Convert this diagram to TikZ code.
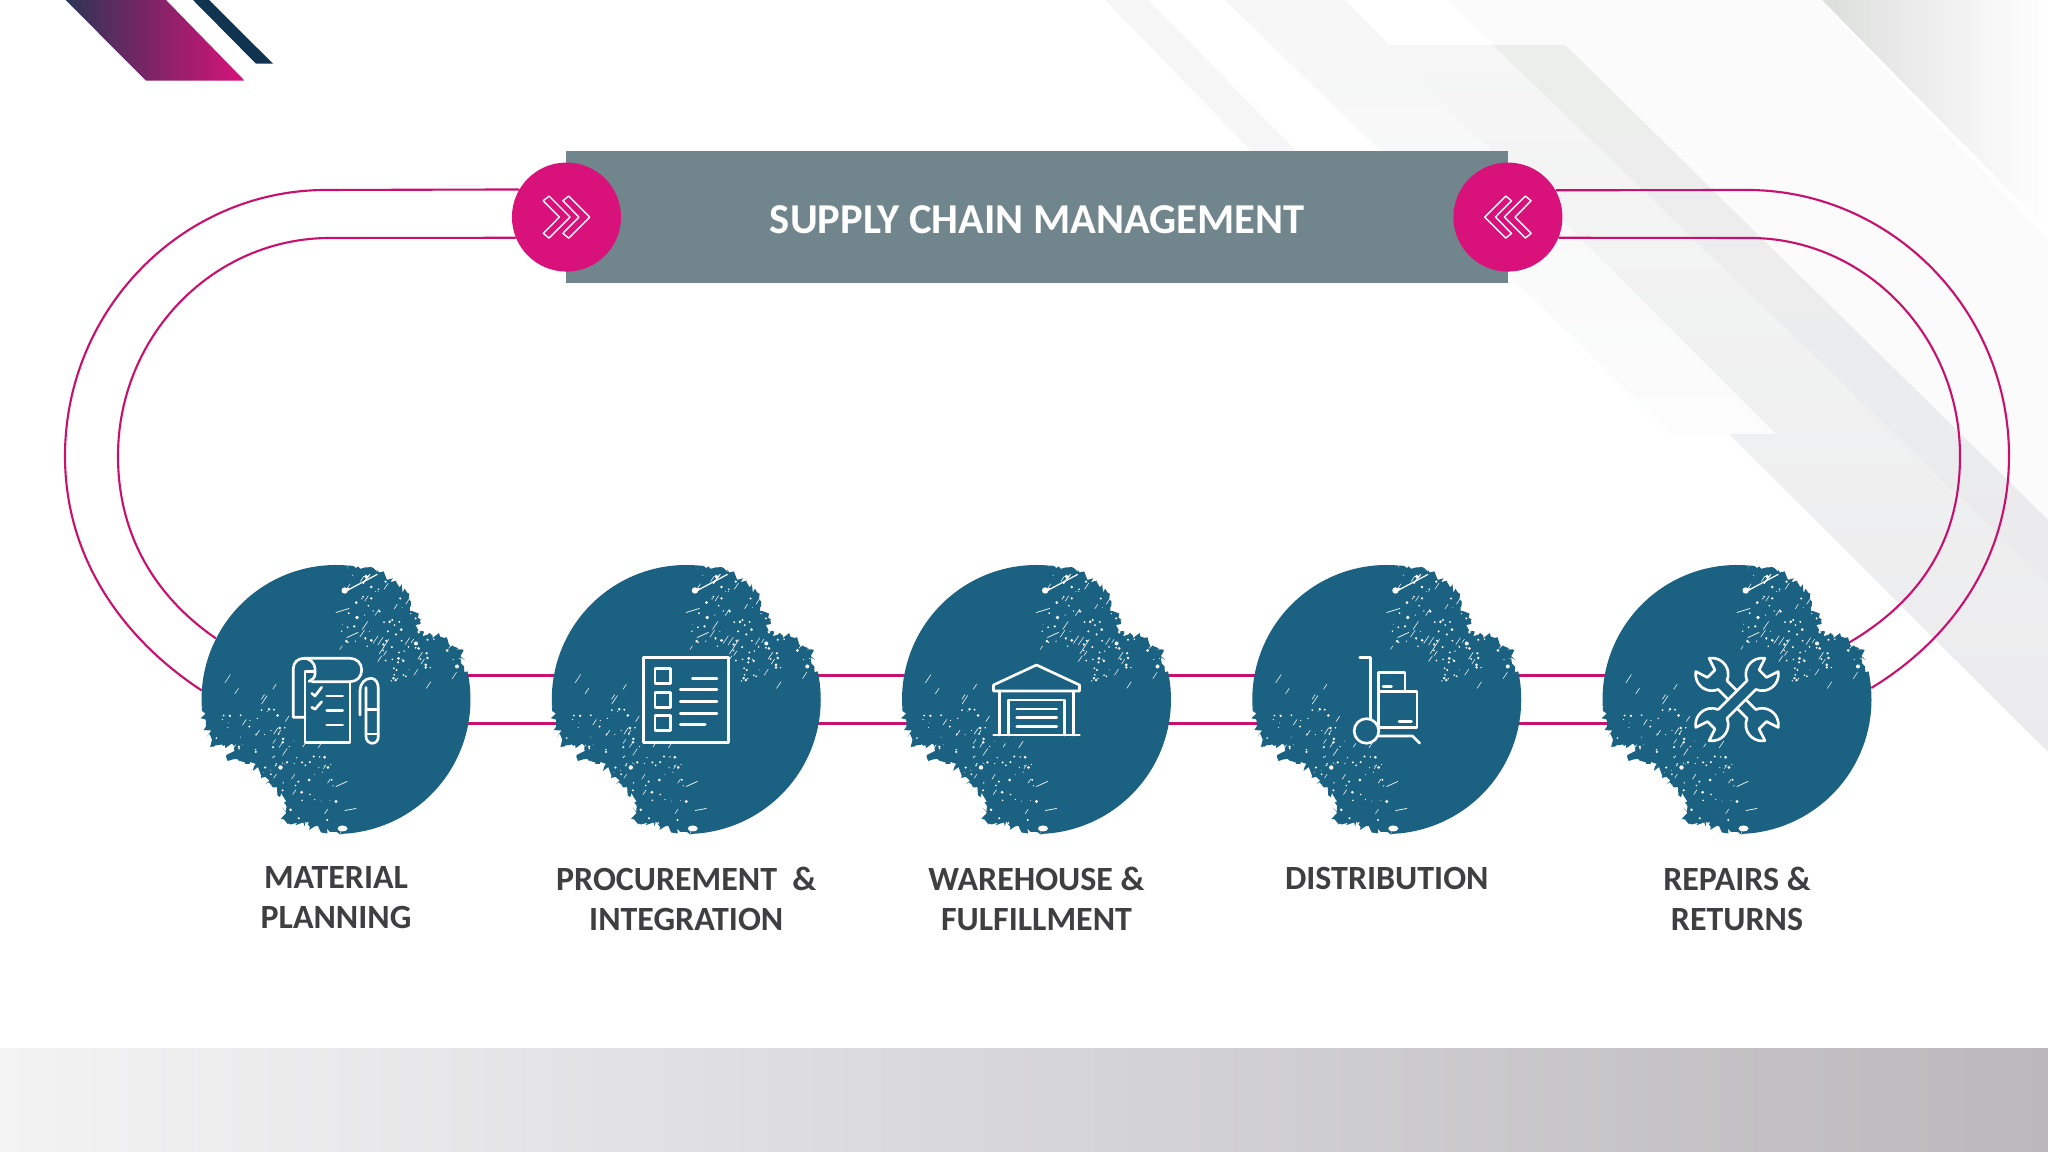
\documentclass[tikz,border=0pt]{standalone}
\usepackage{fontspec}
\setmainfont{Carlito}
\usetikzlibrary{decorations.pathmorphing}
\definecolor{inkblue}{HTML}{1A6182}
\definecolor{barslate}{HTML}{70858C}
\definecolor{hotpink}{HTML}{D8127A}
\definecolor{wirepink}{HTML}{C8106E}
\definecolor{navyA}{HTML}{2D3555}
\definecolor{navyB}{HTML}{10344F}
\definecolor{labelgray}{HTML}{3F3F41}
\definecolor{bandA}{HTML}{F5F6F5}
\definecolor{bandB}{HTML}{FAFBFA}
\definecolor{bandC}{HTML}{F5F6F5}
\definecolor{bandD}{HTML}{EBEBED}
\definecolor{bandE}{HTML}{ECEEEC}
\definecolor{bandF}{HTML}{FCFCFD}
\definecolor{cornergray}{HTML}{DCDEDC}
\definecolor{footL}{HTML}{F3F3F4}
\definecolor{footR}{HTML}{BAB8BC}
\tikzset{
  wire/.style={color=wirepink,line width=0.6pt},
  icon/.style={draw=white,line width=0.75pt,line join=round,line cap=round},
  chevron/.style={draw=white,line width=0.4pt},
  inkspot/.style={circle,minimum size=2.69cm,inner sep=0pt},
  badge/.style={circle,minimum size=1.09cm,inner sep=0pt,fill=hotpink},
  titlebar/.style={fill=barslate,text=white,minimum width=9.415cm,minimum height=1.312cm,inner sep=0pt,text height=9.3pt,text depth=0pt,font=\fontsize{12.1}{14}\selectfont\bfseries},
  steplabel/.style={anchor=north,inner sep=0pt,align=center,text=labelgray,font=\fontsize{9.65}{11.38}\selectfont\bfseries},
  jag/.style={decoration={random steps,segment length=0.8pt,amplitude=1.1pt}}
}
\begin{document}
\begin{tikzpicture}[line cap=round,line join=round,x=0.01cm,y=0.01cm]
\useasboundingbox (0,0) rectangle (2048,1152);
\fill[white] (0,0) rectangle (2048,1152);
\fill[bandB] (1919,887) -- (2048,757) -- (2048,632) -- (1919,757) -- cycle;
\fill[bandA] (1105,1152) -- (1148,1152) -- (1350,946) -- (1305,946) -- cycle;
\fill[bandB] (1448,1152) -- (1820,1152) -- (2048,912) -- (2048,632) -- (1565,1107) -- (1493,1107) -- cycle;
\shade[top color=bandA,bottom color=bandF] (1225,1152) -- (1345,1152) -- (1776,718) -- (1672,718) -- cycle;
\shade[top color=bandC,bottom color=bandD] (1387,1107) -- (1565,1107) -- (2048,632) -- (2048,400) -- (1729,718) -- (1776,718) -- cycle;
\shade[top color=bandE,bottom color=bandD] (1493,1107) -- (1565,1107) -- (2048,632) -- (2048,570) -- cycle;
\shade[left color=cornergray,right color=white] (1822,1152) -- (2048,1152) -- (2048,922) -- cycle;
\shade[left color=footL,right color=footR] (0,0) rectangle (2048,103.5);
\shade[left color=navyA,right color=hotpink] (65.6,1152) -- (166,1152) -- (244.6,1071.3) -- (146,1071.3) -- cycle;
\fill[navyB] (193,1152) -- (209,1152) -- (273,1088.3) -- (256,1088.3) -- cycle;

\node[titlebar] (title) at (1037.2,934.9) {SUPPLY CHAIN MANAGEMENT};
\node[badge] (badgeL) at ([xshift=0.01cm]title.west) {};
\node[badge] (badgeR) at ([xshift=-0.01cm]title.east) {};
\foreach \n/\cx in {1/336,2/686.25,3/1036.5,4/1386.75,5/1737}
  \node[inkspot] (ink\n) at (\cx,452.5) {};
\coordinate (wireEnd) at (1845,507);

\foreach \a/\b in {1/2,2/3,3/4,4/5} {
  \draw[wire] ([yshift=0.24cm]ink\a.center) -- ([yshift=0.24cm]ink\b.center);
  \draw[wire] ([yshift=-0.24cm]ink\a.center) -- ([yshift=-0.24cm]ink\b.center);
}
\draw[wire] (badgeL.150.3) -- (326,962) .. controls (182,962) and (65,842) .. (65,696) .. controls (65,592) and (125,512) .. (ink1.176);
\draw[wire] (badgeL.202.7) -- (330,914) .. controls (213,914) and (118,816) .. (118,696) .. controls (118,612) and (160,552) .. (ink1.153);
\draw[wire] (badgeR.29.7) -- (1747,962) .. controls (1891,962) and (2009,842) .. (2009,696) .. controls (2009,592) and (1950,512) .. (ink5.5);
\draw[wire] (badgeR.-22.7) -- (1750,914) .. controls (1865,914) and (1960,816) .. (1960,696) .. controls (1960,606) and (1915,547) .. (wireEnd);

\begin{scope}[shift={(badgeL.center)}]
\draw[chevron] (-23.2,16.3) -- (-17.4,21) -- (3.6,0) -- (-17.4,-21) -- (-23.2,-16.3) -- (-7.1,0) -- cycle;
\draw[chevron] (-3.6,16.3) -- (2.2,21) -- (23.2,0) -- (2.2,-21) -- (-3.6,-16.3) -- (12.5,0) -- cycle;
\end{scope}
\begin{scope}[shift={(badgeR.center)},xscale=-1]
\draw[chevron] (-23.2,16.3) -- (-17.4,21) -- (3.6,0) -- (-17.4,-21) -- (-23.2,-16.3) -- (-7.1,0) -- cycle;
\draw[chevron] (-3.6,16.3) -- (2.2,21) -- (23.2,0) -- (2.2,-21) -- (-3.6,-16.3) -- (12.5,0) -- cycle;
\end{scope}

\foreach \n in {1,...,5} {
\begin{scope}[shift={(ink\n.center)}]
\pgfmathsetseed{11}
\fill[inkblue] (0,0) -- (85:134.5) arc[start angle=85,end angle=183,radius=134.5] -- cycle;
\fill[inkblue] (0,0) -- (-88:134.5) arc[start angle=-88,end angle=12,radius=134.5] -- cycle;
\fill[inkblue] decorate[jag] {(12,134) -- (22,133) -- (43,127) -- (60,118) -- (71,107) -- (74,93) -- (84,80) -- (80,67) -- (104,63) -- (126,50) -- (128,33) -- (131.5,28)} -- (-20,-20) -- cycle;
\fill[inkblue] decorate[jag] {(-134,-7) -- (-130,-27) -- (-124,-40) -- (-122,-47) -- (-100,-47) -- (-110,-57) -- (-82,-67) -- (-63,-88) -- (-52,-103) -- (-52,-120) -- (-26,-127) -- (4,-134)} -- (20,20) -- cycle;
\foreach \i in {1,...,90} {
  \pgfmathsetmacro\spotang{18+rnd*68}
  \pgfmathsetmacro\spotrad{58+rnd*72}
  \pgfmathsetmacro\spotsize{0.4+rnd*1.1}
  \fill[white] (\spotang:\spotrad) circle (\spotsize);
  \pgfmathsetmacro\spotang{188+rnd*80}
  \pgfmathsetmacro\spotrad{58+rnd*72}
  \pgfmathsetmacro\spotsize{0.4+rnd*1.1}
  \fill[white] (\spotang:\spotrad) circle (\spotsize);
}
\foreach \i in {1,...,24} {
  \pgfmathsetmacro\spotang{5+rnd*85}
  \pgfmathsetmacro\spotrad{50+rnd*80}
  \pgfmathsetmacro\spotlen{2+rnd*4}
  \draw[white,line width=0.15pt] (\spotang:\spotrad) -- ++(\spotlen,1.5*\spotlen);
  \pgfmathsetmacro\spotang{170+rnd*95}
  \pgfmathsetmacro\spotrad{50+rnd*80}
  \pgfmathsetmacro\spotlen{2+rnd*4}
  \draw[white,line width=0.15pt] (\spotang:\spotrad) -- ++(\spotlen,1.5*\spotlen);
}
\fill[white] (8.7,109) circle (3.2);
\draw[white,line width=0.35pt] (11,109) -- (41,125);
\draw[white,line width=0.35pt] (27,116) -- (33,124);
\fill[white] (21,82) circle (1.8);
\fill[white] (30,123) circle (1.8);
\fill[white] (0,-102) circle (1.6);
\fill[white] (-55.5,-68) circle (2.2);
\fill[white] (6.5,-129) ellipse (5 and 3);
\fill[white] (80,56) circle (2);
\fill[white] (121,33) circle (2);
\foreach \xa/\ya/\xb/\yb in {0/87/13/91,11/62/22/67,0/-87/11/-82,9/-111/20/-109}
  \draw[white,line width=0.2pt] (\xa,\ya) -- (\xb,\yb);
\end{scope}
}

\begin{scope}[shift={(ink1.center)}]
\draw[icon] (-31,-17.8) -- (-42.7,-17.8) -- (-42.7,31) .. controls (-42.7,37) and (-38,41.2) .. (-32,41.2) -- (14,41.2) .. controls (21,41.2) and (25.7,36) .. (25.7,29.5) .. controls (25.7,23) and (21,17.8) .. (14,17.8) -- (-24,17.8);
\draw[icon] (-32,41.2) .. controls (-26,41.2) and (-21,36) .. (-21,31) -- (-21,25) .. controls (-21,22) and (-24,19.5) .. (-27,18);
\draw[icon] (-21,27.8) -- (-31,27.8) -- (-31,-43.2) -- (14,-43.2) -- (14,17.8);
\draw[icon] (-24.3,6.2) -- (-21,3.5) -- (-14.3,12.2);
\draw[icon] (-24.3,-7.8) -- (-21,-9.8) -- (-14.3,-2.2);
\draw[icon] (-9.3,3.5) -- (6.7,3.5);
\draw[icon] (-9.3,-10.8) -- (6.7,-10.8);
\draw[icon] (-9.3,-25.5) -- (6.7,-25.5);
\draw[icon] (24,-15.5) -- (24,9) .. controls (24,16) and (29,21.2) .. (35,21.2) .. controls (40,21.2) and (42.3,16) .. (42.3,11) -- (42.3,-37) .. controls (42.3,-41) and (40,-43.8) .. (36.3,-43.8) .. controls (33,-43.8) and (30,-41) .. (30,-37) -- (30,12);
\draw[icon] (30,-9.8) -- (42.3,-9.8);
\draw[icon] (30,-34.5) -- (42.3,-34.5);
\end{scope}

\begin{scope}[shift={(ink2.center)}]
\draw[icon] (-43,-43) rectangle (42.5,42.3);
\draw[icon] (-31.2,16.3) rectangle (-15.6,30.7);
\draw[icon] (-31.2,-7.7) rectangle (-15.6,7.3);
\draw[icon] (-31.2,-30.7) rectangle (-15.6,-16);
\draw[icon] (6.1,21.3) -- (30.8,21.3);
\draw[icon] (-6,9.7) -- (30.8,9.7);
\draw[icon] (-6,-2) -- (30.8,-2);
\draw[icon] (-6,-13.7) -- (30.8,-13.7);
\draw[icon] (-6,-24.7) -- (19,-24.7);
\end{scope}

\begin{scope}[shift={(ink3.center)}]
\draw[icon] (0,34.5) -- (-43,14.5) -- (-43,8.5) -- (43,8.5) -- (43,14.5) -- cycle;
\draw[icon] (-37,8.5) -- (-37,-35.5);
\draw[icon] (37,8.5) -- (37,-35.5);
\draw[icon] (-43,-35.5) -- (43,-35.5);
\draw[icon] (-27.7,-35.5) -- (-27.7,-0.5) -- (28,-0.5) -- (28,-35.5);
\draw[icon] (-19.7,-9.5) -- (20.3,-9.5);
\draw[icon] (-19.7,-18.2) -- (20.3,-18.2);
\draw[icon] (-19.7,-26.8) -- (20.3,-26.8);
\end{scope}

\begin{scope}[shift={(ink4.center)}]
\draw[icon] (-27,42.2) -- (-16.3,42.2) -- (-16.3,-18.8);
\draw[icon] (-20.3,-31.5) circle (12.3);
\draw[icon] (-8.3,7.8) -- (-8.3,27.2) -- (18.3,27.2) -- (18.3,7.8);
\draw[icon] (-8.3,-28.2) rectangle (30.3,7.8);
\draw[icon] (-3.7,12.8) -- (4.7,12.8);
\draw[icon] (12.3,-22.2) -- (24.7,-22.2);
\draw[icon] (-8.3,-36.5) -- (25.7,-36.5) -- (33,-43.8);
\end{scope}

\begin{scope}[shift={(ink5.center)},rotate=-45,scale=0.96]
\draw[icon,fill=inkblue] (-21.3,6.5) -- (21.3,6.5) arc[start angle=157.5,end angle=35,radius=17] -- (38,5.5) -- (38,-5.5) -- (50.9,-9.75) arc[start angle=-35,end angle=-157.5,radius=17] -- (-21.3,-6.5) arc[start angle=-22.5,end angle=-145,radius=17] -- (-38,-5.5) -- (-38,5.5) -- (-50.9,9.75) arc[start angle=145,end angle=22.5,radius=17] -- cycle;
\end{scope}
\begin{scope}[shift={(ink5.center)},rotate=45,scale=0.96]
\draw[icon,fill=inkblue] (-21.3,6.5) -- (21.3,6.5) arc[start angle=157.5,end angle=35,radius=17] -- (38,5.5) -- (38,-5.5) -- (50.9,-9.75) arc[start angle=-35,end angle=-157.5,radius=17] -- (-21.3,-6.5) arc[start angle=-22.5,end angle=-145,radius=17] -- (-38,-5.5) -- (-38,5.5) -- (-50.9,9.75) arc[start angle=145,end angle=22.5,radius=17] -- cycle;
\end{scope}

\node[steplabel] (label1) at (336,285.8) {MATERIAL\\PLANNING};
\node[steplabel] (label2) at (686.25,285.8) {PROCUREMENT~~\&\\INTEGRATION};
\node[steplabel] (label3) at (1036.5,285.8) {WAREHOUSE \&\\FULFILLMENT};
\node[steplabel] (label4) at (1386.75,285.8) {DISTRIBUTION};
\node[steplabel] (label5) at (1737,285.8) {REPAIRS \&\\RETURNS};
\end{tikzpicture}
\end{document}
